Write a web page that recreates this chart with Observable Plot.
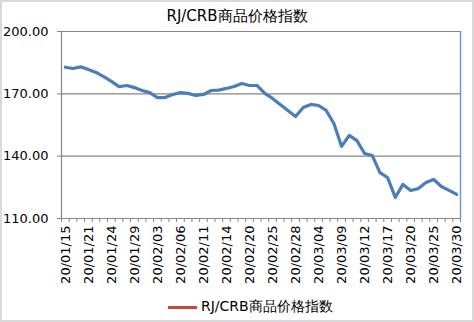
<!DOCTYPE html>
<html>
<head>
<meta charset="utf-8">
<script src="https://cdn.jsdelivr.net/npm/d3@7"></script>
<script src="https://cdn.jsdelivr.net/npm/@observablehq/plot@0.6"></script>
<style>
  body { margin: 0; background: #fff; }
  #wrap { position: relative; width: 474px; height: 322px; background: #fff; overflow: hidden; font-family: "DejaVu Sans", sans-serif; }
  #wrap svg { position: absolute; left: 0; top: 0; }
  #title { position: absolute; left: 0; width: 474px; top: 7px; text-align: center; font-size: 15px; color: #000; }
  #legend { position: absolute; left: 168px; top: 298px; font-size: 14px; color: #000; display: flex; align-items: center; white-space: nowrap; }
  #legend .sw { width: 29px; height: 3px; background: #be4b48; margin-right: 4px; }
  #frame { position: absolute; left: 0; top: 0; width: 474px; height: 322px; box-sizing: border-box; border: 2px solid #d9d9d9; pointer-events: none; }
</style>
</head>
<body>
<div id="wrap">
  <div id="chart"></div>
  <div id="title">RJ/CRB商品价格指数</div>
  <div id="legend"><span class="sw"></span><span>RJ/CRB商品价格指数</span></div>
  <div id="frame"></div>
</div>
<script>
const dates = [
  "20/01/15","20/01/16","20/01/17","20/01/21","20/01/22","20/01/23","20/01/24","20/01/27","20/01/28","20/01/29","20/01/30","20/01/31",
  "20/02/03","20/02/04","20/02/05","20/02/06","20/02/07","20/02/10","20/02/11","20/02/12","20/02/13","20/02/14","20/02/18","20/02/19","20/02/20","20/02/21","20/02/24","20/02/25","20/02/26","20/02/27","20/02/28",
  "20/03/02","20/03/03","20/03/04","20/03/05","20/03/06","20/03/09","20/03/10","20/03/11","20/03/12","20/03/13","20/03/16","20/03/17","20/03/18","20/03/19","20/03/20","20/03/23","20/03/24","20/03/25","20/03/26","20/03/27","20/03/30"
];
const values = [
  182.8, 182.2, 183.0, 181.7, 180.3, 178.3, 176.0, 173.5, 174.0, 173.0, 171.6, 170.6,
  168.2, 168.2, 169.7, 170.6, 170.2, 169.2, 169.7, 171.6, 171.8, 172.6, 173.5, 175.0, 174.0, 174.0, 170.2, 167.8, 164.9, 162.0, 159.1,
  163.4, 164.9, 164.4, 162.0, 155.7, 144.7, 150.0, 147.5, 141.3, 140.3, 132.1, 129.7, 120.1, 126.4, 123.5, 124.4, 127.3, 128.8, 125.4, 123.5, 121.6
];
const yTicks = [110, 140, 170, 200];
const gridValues = [140, 170, 200];
const labelEvery = 3;

const data = values.map((v, i) => ({i, v, date: dates[i]}));
const labelIdx = dates.map((d, i) => i).filter(i => i % labelEvery === 0);
const boundaries = d3.range(dates.length + 1).map(k => k - 0.5);

const chart = Plot.plot({
  width: 474,
  height: 322,
  marginLeft: 61,
  marginRight: 14,
  marginTop: 31,
  marginBottom: 104,
  style: {fontFamily: "DejaVu Sans, sans-serif", fontSize: "13px", color: "#000", background: "transparent"},
  x: {type: "linear", domain: [-0.5, dates.length - 0.5], axis: null},
  y: {domain: [110, 200], axis: null},
  marks: [
    Plot.gridY(gridValues, {stroke: "#868686", strokeOpacity: 1, strokeWidth: 1.2}),
    Plot.ruleX([-0.5], {stroke: "#868686", strokeWidth: 1.2}),
    Plot.ruleX([dates.length - 0.5], {stroke: "#6f9bd0", strokeWidth: 1.5}),
    Plot.ruleY([110], {stroke: "#868686", strokeWidth: 1.2}),
    Plot.axisY(yTicks, {label: null, tickFormat: d3.format(".2f"), tickSize: 4, tickPadding: 9, stroke: "#868686", fontSize: 13}),
    Plot.axisX(boundaries, {label: null, tickSize: 4, tickFormat: () => "", stroke: "#868686"}),
    Plot.axisX(labelIdx, {label: null, tickSize: 0, tickPadding: 7, tickRotate: -90, tickFormat: i => dates[i], fontSize: 13}),
    Plot.line(data, {x: "i", y: "v", stroke: "#4a7ebb", strokeWidth: 3.2, strokeLinejoin: "round", strokeLinecap: "round"})
  ]
});
document.getElementById("chart").appendChild(chart);
</script>
</body>
</html>
